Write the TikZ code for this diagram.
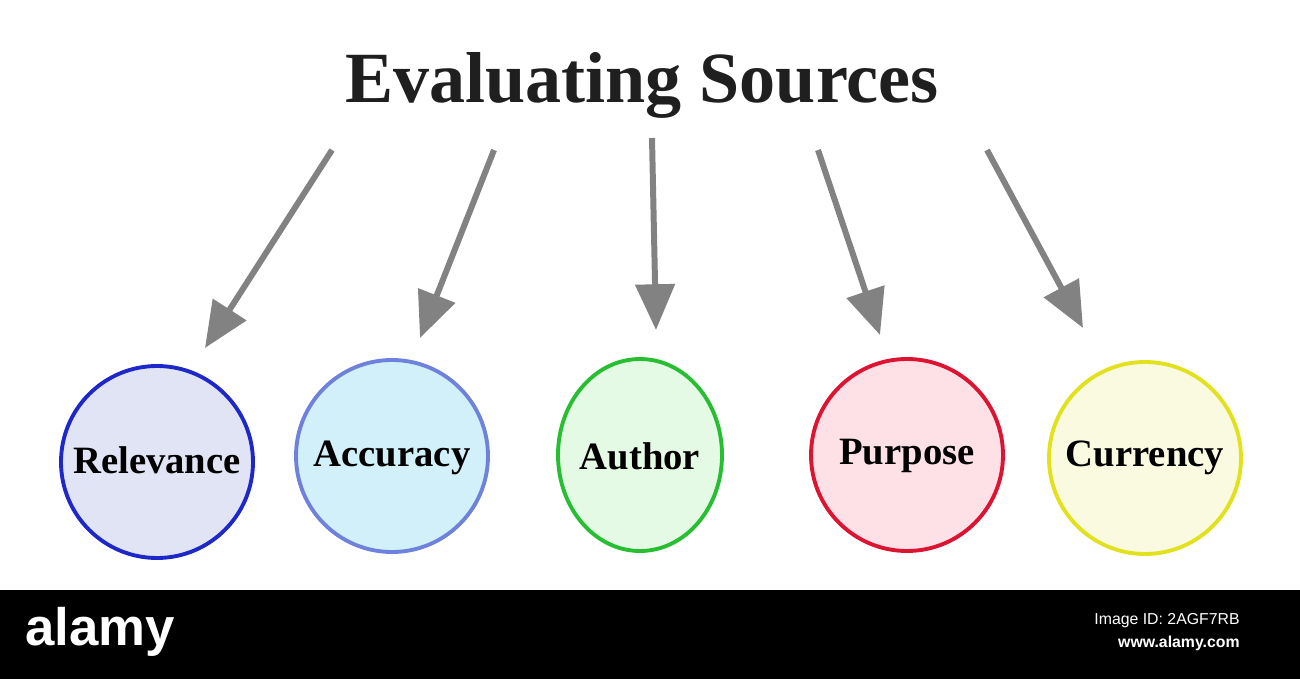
\documentclass[tikz,border=0pt]{standalone}
\usepackage{fontspec}
\setmainfont{Liberation Serif}
\newfontfamily\wmfont{Liberation Sans}
\usetikzlibrary{arrows.meta}
\definecolor{ag}{RGB}{130,130,130}
\tikzset{
 circ/.style={ellipse,draw,line width=1pt},
 lab/.style={font=\bfseries\fontsize{11pt}{13pt}\selectfont},
 arr/.style={draw=ag,line width=1.7pt,-{Triangle[length=13pt,width=11pt]}}
}
\usetikzlibrary{shapes.geometric}
\begin{document}
\begin{tikzpicture}[x=0.01cm,y=-0.01cm]
\useasboundingbox (0,0) rectangle (1300,679);
\fill[white] (0,0) rectangle (1300,679);
\node[font=\bfseries\fontsize{20.5pt}{24pt}\selectfont,text=black!88] (title) at (642,85) {Evaluating Sources};
\definecolor{b1}{RGB}{30,40,200}\definecolor{f1}{RGB}{225,228,245}
\definecolor{b2}{RGB}{110,130,220}\definecolor{f2}{RGB}{210,240,250}
\definecolor{b3}{RGB}{40,190,50}\definecolor{f3}{RGB}{228,250,228}
\definecolor{b4}{RGB}{220,20,50}\definecolor{f4}{RGB}{253,225,230}
\definecolor{b5}{RGB}{225,225,30}\definecolor{f5}{RGB}{250,250,225}
\foreach \n/\x/\y/\rx/\c/\t/\ty in {r/157/462/96/1/Relevance/460,a/392/456/96/2/Accuracy/458,u/640/455/82/3/Author/456,p/907/455/96/4/Purpose/456,c/1145/458/96/5/Currency/458}{
 \draw[draw=b\c,fill=f\c,line width=1.1pt] (\x,\y) ellipse [x radius=\rx, y radius=96];
 \node[lab] (\n) at (\x,\ty) {\t};
}
\coordinate (s1) at (332,150); \coordinate (e1) at (205,348);
\coordinate (s2) at (494,150); \coordinate (e2) at (420,338);
\coordinate (s3) at (652,138); \coordinate (e3) at (656,330);
\coordinate (s4) at (818,150); \coordinate (e4) at (880,335);
\coordinate (s5) at (987,150); \coordinate (e5) at (1083,328);
\foreach \i in {1,...,5}{\draw[arr] (s\i) -- (e\i);}
\fill[black] (0,590) rectangle (1300,679);
\node[text=white,font=\wmfont\bfseries\fontsize{15pt}{17pt}\selectfont] (wm) at (100,632) {alamy};
\node[text=white,anchor=east,align=right,font=\wmfont\fontsize{4.5pt}{6.5pt}\selectfont] (id) at (1252,632) {Image ID: 2AGF7RB\\ \textbf{www.alamy.com}};
\end{tikzpicture}
\end{document}
